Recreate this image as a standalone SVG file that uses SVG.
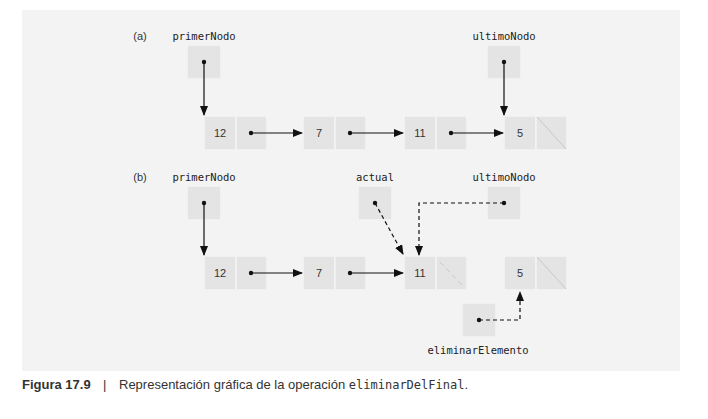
<svg xmlns="http://www.w3.org/2000/svg" width="708" height="419" viewBox="0 0 708 419">
<style>
.bx{fill:#e4e4e4;stroke:#f4f4f4;stroke-width:1.5}
.m{font-family:"DejaVu Sans Mono",monospace;font-size:10.5px;fill:#222}
.n{font-family:"Liberation Sans",sans-serif;font-size:11px;fill:#333;text-anchor:middle}
.c{stroke:#111;stroke-width:1.2;fill:none}
.d{stroke:#111;stroke-width:1.2;fill:none;stroke-dasharray:4,3}
.s{stroke:#c8c8c8;stroke-width:1}
.cap{font-family:"Liberation Sans",sans-serif;font-size:13px;fill:#333}
</style>
<defs>
<marker id="a" markerWidth="10" markerHeight="8" refX="9" refY="4" orient="auto" markerUnits="userSpaceOnUse"><path d="M0,0L10,4L0,8z" fill="#111"/></marker>
</defs>
<rect x="22" y="10" width="658" height="361" fill="#f3f3f3"/>
<text x="140" y="40" class="n" font-size="10">(a)</text>
<text x="140" y="181" class="n" font-size="10">(b)</text>
<g id="a_primer"><text x="204" y="40" class="m" text-anchor="middle">primerNodo</text><rect class="bx" x="187" y="45" width="34" height="34"/></g>
<g id="a_ultimo"><text x="504" y="40" class="m" text-anchor="middle">ultimoNodo</text><rect class="bx" x="487" y="45" width="34" height="34"/></g>
<g id="a_n12"><rect class="bx" x="204" y="116" width="32" height="34"/><rect class="bx" x="236" y="116" width="31" height="34"/><text x="220" y="137" class="n">12</text></g>
<g id="a_n7"><rect class="bx" x="303" y="116" width="32" height="34"/><rect class="bx" x="335" y="116" width="31" height="34"/><text x="319" y="137" class="n">7</text></g>
<g id="a_n11"><rect class="bx" x="404" y="116" width="32" height="34"/><rect class="bx" x="436" y="116" width="31" height="34"/><text x="420" y="137" class="n">11</text></g>
<g id="a_n5"><rect class="bx" x="504" y="116" width="32" height="34"/><rect class="bx" x="536" y="116" width="31" height="34"/><line class="s" x1="537" y1="117" x2="566" y2="149"/><text x="520" y="137" class="n">5</text></g>
<g id="b_primer"><text x="204" y="181" class="m" text-anchor="middle">primerNodo</text><rect class="bx" x="187" y="186" width="34" height="34"/></g>
<g id="b_actual"><text x="375" y="181" class="m" text-anchor="middle">actual</text><rect class="bx" x="358" y="186" width="34" height="34"/></g>
<g id="b_ultimo"><text x="504" y="181" class="m" text-anchor="middle">ultimoNodo</text><rect class="bx" x="487" y="186" width="34" height="34"/></g>
<g id="b_n12"><rect class="bx" x="204" y="256" width="32" height="34"/><rect class="bx" x="236" y="256" width="31" height="34"/><text x="220" y="277" class="n">12</text></g>
<g id="b_n7"><rect class="bx" x="303" y="256" width="32" height="34"/><rect class="bx" x="335" y="256" width="31" height="34"/><text x="319" y="277" class="n">7</text></g>
<g id="b_n11"><rect class="bx" x="404" y="256" width="32" height="34"/><rect class="bx" x="436" y="256" width="31" height="34"/><line class="s" x1="440" y1="262" x2="462" y2="285" stroke-dasharray="5,4"/><text x="420" y="277" class="n">11</text></g>
<g id="b_n5"><rect class="bx" x="504" y="256" width="32" height="34"/><rect class="bx" x="536" y="256" width="31" height="34"/><line class="s" x1="537" y1="257" x2="566" y2="289"/><text x="520" y="277" class="n">5</text></g>
<g id="b_elim"><rect class="bx" x="462" y="303" width="34" height="34"/><text x="478" y="354" class="m" text-anchor="middle">eliminarElemento</text></g>
<g id="connectors" fill="#111">
<circle cx="204" cy="62" r="2.2"/><circle cx="504" cy="62" r="2.2"/>
<circle cx="251" cy="133" r="2.2"/><circle cx="350" cy="133" r="2.2"/><circle cx="451" cy="133" r="2.2"/>
<path class="c" d="M204,62V115" marker-end="url(#a)"/>
<path class="c" d="M504,62V115" marker-end="url(#a)"/>
<path class="c" d="M251,133H302" marker-end="url(#a)"/>
<path class="c" d="M350,133H403" marker-end="url(#a)"/>
<path class="c" d="M451,133H503" marker-end="url(#a)"/>
<circle cx="204" cy="203" r="2.2"/><circle cx="375" cy="203" r="2.2"/><circle cx="504" cy="203" r="2.2"/>
<circle cx="251" cy="273" r="2.2"/><circle cx="350" cy="273" r="2.2"/><circle cx="479" cy="320" r="2.2"/>
<path class="c" d="M204,203V255" marker-end="url(#a)"/>
<path class="c" d="M251,273H302" marker-end="url(#a)"/>
<path class="c" d="M350,273H403" marker-end="url(#a)"/>
<path class="d" d="M375,203L403,254" marker-end="url(#a)"/>
<path class="d" d="M504,203H419V255" marker-end="url(#a)"/>
<path class="d" d="M479,320H520V292" marker-end="url(#a)"/>
</g>
<text x="22" y="389" class="cap" font-weight="bold" fill="#555">Figura 17.9</text>
<text x="103" y="389" class="cap">|</text>
<text x="119" y="389" class="cap">Representación gráfica de la operación <tspan font-family="DejaVu Sans Mono,monospace" font-size="12">eliminarDelFinal</tspan>.</text>
</svg>
